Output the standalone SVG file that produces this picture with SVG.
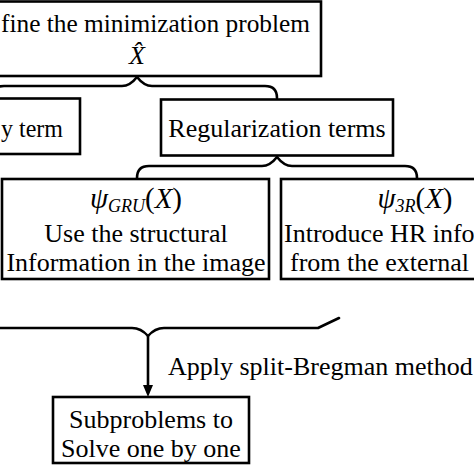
<svg xmlns="http://www.w3.org/2000/svg" width="474" height="474" viewBox="0 0 474 474">
<style>
.box{fill:#fff;stroke:#000;stroke-width:2.6}
.t{font-family:"Liberation Serif","Times New Roman",serif;font-size:26px;fill:#000}
.m{font-family:"Liberation Serif","Times New Roman",serif;font-style:italic;fill:#000}
.c{fill:none;stroke:#000;stroke-width:2.6;stroke-linejoin:round;stroke-linecap:round}
</style>
<rect width="474" height="474" fill="#fff"/>
<g id="connectors">
<path class="c" d="M-8,98 Q-8,86 4,86 L122,86 Q130,86 137,77 Q144,86 152,86 L265,86 Q277,86 277,98"/>
<path class="c" d="M137,178 Q137,166 149,166 L262,166 Q270,166 277,157 Q284,166 292,166 L405,166 Q417,166 417,178"/>
<path class="c" d="M-10,328 L132,328 Q141,328 148,336 Q155,328 164,328 L318,328 L339,318"/>
<line class="c" x1="148" y1="336" x2="148" y2="386" style="stroke-linecap:butt"/>
<polygon points="143,385 153,385 148,397" fill="#000"/>
<text class="t" x="168" y="375">Apply split-Bregman method</text>
</g>
<g id="node-define">
<rect class="box" x="-20" y="1.5" width="341" height="74.5"/>
<text class="t" x="1" y="32" textLength="309" lengthAdjust="spacingAndGlyphs">fine the minimization problem</text>
<text class="m" x="137" y="64" font-size="26" text-anchor="middle">X̂</text>
</g>
<g id="node-fidelity">
<rect class="box" x="-20" y="98.5" width="100" height="55.5"/>
<text class="t" x="1" y="137" textLength="62" lengthAdjust="spacingAndGlyphs">y term</text>
</g>
<g id="node-regularization">
<rect class="box" x="161" y="99.5" width="232" height="56"/>
<text class="t" x="277" y="137" text-anchor="middle">Regularization terms</text>
</g>
<g id="node-gru">
<rect class="box" x="2" y="179" width="267" height="100"/>
<text x="136" y="208" text-anchor="middle" class="m" font-size="29">ψ<tspan font-size="18" dy="4">GRU</tspan><tspan font-style="normal" dy="-4">(</tspan>X<tspan font-style="normal">)</tspan></text>
<text class="t" x="136" y="242" text-anchor="middle">Use the structural</text>
<text class="t" x="136" y="271" text-anchor="middle">Information in the image</text>
</g>
<g id="node-3r">
<rect class="box" x="281" y="179" width="280" height="100"/>
<text x="415" y="208" text-anchor="middle" class="m" font-size="29">ψ<tspan font-size="18" dy="4">3R</tspan><tspan font-style="normal" dy="-4">(</tspan>X<tspan font-style="normal">)</tspan></text>
<text class="t" x="284" y="242">Introduce HR info</text>
<text class="t" x="290" y="271">from the external</text>
</g>
<g id="node-subproblems">
<rect class="box" x="53" y="397" width="196" height="66"/>
<text class="t" x="151" y="428" text-anchor="middle">Subproblems to</text>
<text class="t" x="151" y="457" text-anchor="middle">Solve one by one</text>
</g>
</svg>
